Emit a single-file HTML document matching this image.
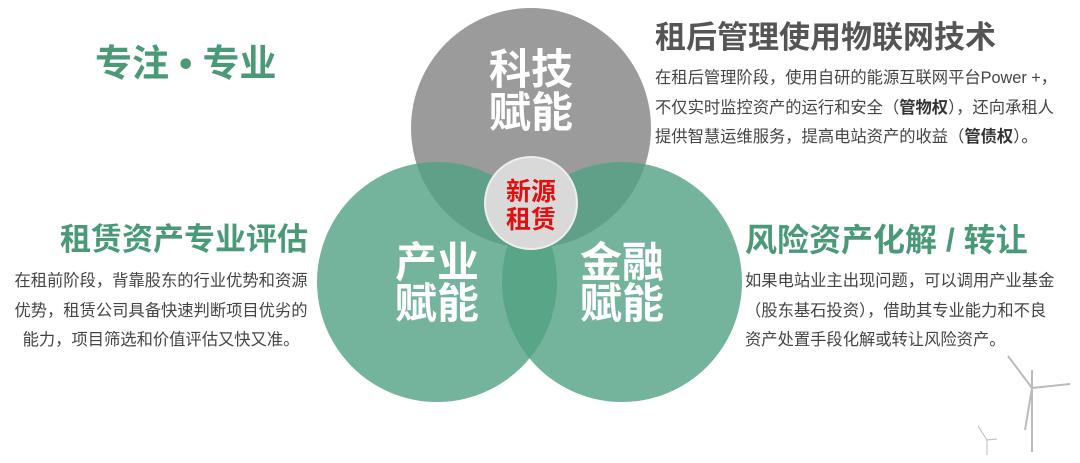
<!DOCTYPE html>
<html><head><meta charset="utf-8"><style>
body{margin:0;width:1080px;height:463px;background:#fff;position:relative;overflow:hidden;font-family:"Liberation Sans","Noto Sans CJK SC",sans-serif}
.t{position:absolute;white-space:nowrap}
.h{font-weight:bold;font-size:31px;line-height:36px}
.p{font-size:16.3px;color:#444;line-height:29.5px}
.g{color:#4a9a78}
b{color:#333}
</style></head><body>
<svg width="1080" height="463" style="position:absolute;left:0;top:0">
<circle cx="531" cy="128" r="120" fill="#9b9b9b"/>
<circle cx="437" cy="282" r="120" fill="rgb(81,161,131)" fill-opacity="0.8"/>
<circle cx="622" cy="282" r="120" fill="rgb(81,161,131)" fill-opacity="0.8"/>
<circle cx="531" cy="203" r="46" fill="#d9d9d9" stroke="#eee" stroke-width="2"/>
<g stroke="#bbb" stroke-width="2" fill="none">
<line x1="1032" y1="370" x2="1032" y2="452"/>
<line x1="1032" y1="388" x2="1008" y2="356"/>
<line x1="1032" y1="388" x2="1070" y2="384"/>
<line x1="1032" y1="388" x2="1025" y2="430"/>
<line x1="987" y1="440" x2="987" y2="455" stroke-width="1"/>
<line x1="987" y1="440" x2="978" y2="426" stroke-width="1"/>
<line x1="987" y1="440" x2="997" y2="439" stroke-width="1"/>
</g>
<g font-family="Liberation Sans,Noto Sans CJK SC,sans-serif" font-weight="bold" fill="#fff" font-size="42" text-anchor="middle">
<text x="531" y="84">科技</text><text x="531" y="127">赋能</text>
<text x="437" y="277">产业</text><text x="437" y="318">赋能</text>
<text x="622" y="277">金融</text><text x="622" y="318">赋能</text>
</g>
<g font-family="Liberation Sans,Noto Sans CJK SC,sans-serif" font-weight="bold" fill="#e01010" font-size="25" text-anchor="middle">
<text x="531" y="200">新源</text><text x="531" y="228">租赁</text>
</g>
</svg>
<div class="t h g" style="left:95px;top:44px;font-size:37px;line-height:40px">专注 • 专业</div>
<div class="t h" style="left:655px;top:20px;color:#555">租后管理使用物联网技术</div>
<div class="t p" style="left:655px;top:64px">在租后管理阶段，使用自研的能源互联网平台Power +，<br>不仅实时监控资产的运行和安全（<b>管物权</b>），还向承租人<br>提供智慧运维服务，提高电站资产的收益（<b>管债权</b>）。</div>
<div class="t h g" style="left:60px;top:222px">租赁资产专业评估</div>
<div class="t p" style="left:10px;top:267px;width:302px;text-align:center">在租前阶段，背靠股东的行业优势和资源<br>优势，租赁公司具备快速判断项目优劣的<br>能力，项目筛选和价值评估又快又准。</div>
<div class="t h g" style="left:745px;top:222px;font-size:32px">风险资产化解 / 转让</div>
<div class="t p" style="left:745px;top:267px">如果电站业主出现问题，可以调用产业基金<br>（股东基石投资），借助其专业能力和不良<br>资产处置手段化解或转让风险资产。</div>
</body></html>
